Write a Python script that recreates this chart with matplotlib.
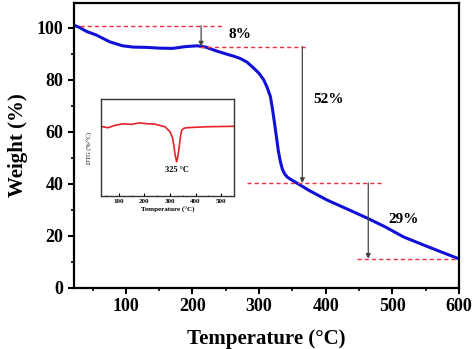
import matplotlib.pyplot as plt

plt.rcParams['font.family'] = 'Liberation Serif'
plt.rcParams['font.weight'] = 'bold'

# TGA curve
temp = [22, 30, 41, 55, 76, 95, 111, 130, 150, 170, 190, 207, 220, 235, 250, 262,
        272, 282, 292, 300, 307, 312, 317, 320, 323, 326, 329, 332, 335, 339, 343,
        349, 357, 375, 402, 430, 462, 490, 517, 550, 580, 600]
weight = [101.0, 100.2, 98.6, 97.3, 94.6, 93.1, 92.6, 92.5, 92.2, 92.1, 92.8, 93.1,
          92.6, 91.2, 90.0, 89.1, 88.2, 86.8, 84.5, 82.5, 80.0, 77.2, 73.6, 69.0,
          63.8, 58.2, 52.6, 48.6, 45.6, 43.6, 42.5, 41.5, 40.3, 37.5, 33.8, 30.6,
          26.9, 23.4, 19.6, 16.2, 13.2, 11.2]

# DTG inset curve
dtg_temp = [28, 57, 85, 116, 150, 181, 215, 240, 280, 300, 310, 315, 320, 326, 331,
            336, 341, 346, 355, 365, 400, 444, 500, 551]
dtg_val = [-0.06, -0.09, -0.04, -0.01, -0.02, 0.01, -0.01, -0.015, -0.07, -0.17,
           -0.3, -0.45, -0.65, -0.79, -0.68, -0.48, -0.28, -0.14, -0.10, -0.09,
           -0.08, -0.07, -0.065, -0.06]

# weight loss steps: (level, x start, x end)
levels = [100.8, 92.8, 40.3, 11.2]
level_spans = [(31, 246), (211, 374), (282, 485), (447, 600)]
step_x = [213, 365, 464]
step_labels = ['8%', '52%', '29%']
label_pos = [(271, 97.5), (404, 72.5), (517, 26.5)]

fig = plt.figure(figsize=(4.74, 3.49), dpi=100)
ax = fig.add_axes([0.156, 0.175, 0.812, 0.816])

ax.plot(temp, weight, color='#1010d8', lw=2.2)

for lv, (x0, x1) in zip(levels, level_spans):
    ax.plot([x0, x1], [lv, lv], color='#f03040', lw=1.0, dashes=(3, 2.2))

for i, x in enumerate(step_x):
    ax.annotate('', xy=(x, levels[i + 1]), xytext=(x, levels[i]),
                arrowprops=dict(arrowstyle='-|>', color='#444444', lw=0.9,
                                mutation_scale=7, shrinkA=0, shrinkB=0))
for (lx, ly), txt in zip(label_pos, step_labels):
    ax.text(lx, ly, txt, fontsize=11, fontweight='bold', ha='center', va='center')

ax.set_xlim(22, 600)
ax.set_ylim(0, 109.5)
ax.set_xticks([100, 200, 300, 400, 500, 600])
ax.set_xticks(range(50, 600, 100), minor=True)
ax.set_yticks([0, 20, 40, 60, 80, 100])
ax.set_yticks(range(10, 110, 20), minor=True)
ax.tick_params(which='major', direction='out', length=4, width=1.5, labelsize=13)
ax.tick_params(which='minor', direction='out', length=2.5, width=1.2)
for lab in ax.get_xticklabels() + ax.get_yticklabels():
    lab.set_fontweight('bold')
for sp in ax.spines.values():
    sp.set_linewidth(1.6)
ax.set_xlabel('Temperature (°C)', fontsize=15, fontweight='bold', labelpad=10)
ax.set_ylabel('Weight (%)', fontsize=15, fontweight='bold', labelpad=6)

# inset
ins = fig.add_axes([0.213, 0.438, 0.281, 0.278])
ins.plot(dtg_temp, dtg_val, color='#e8202a', lw=1.2)
ins.set_xlim(30, 551)
ins.set_ylim(-1.5, 0.5)
ins.set_xticks([100, 200, 300, 400, 500])
ins.set_xticks(range(50, 551, 50), minor=True)
ins.set_yticks([])
ins.tick_params(which='major', direction='in', length=2, width=0.8, labelsize=5, pad=2)
ins.tick_params(which='minor', direction='in', length=1, width=0.6)
for lab in ins.get_xticklabels():
    lab.set_fontweight('bold')
for sp in ins.spines.values():
    sp.set_linewidth(1.0)
    sp.set_color('#333333')
ins.set_xlabel('Temperature (°C)', fontsize=5, fontweight='bold', labelpad=2)
ins.set_ylabel('DTG (%/°C)', fontsize=4.5, labelpad=6)
ins.text(326, -0.96, '325 °C', fontsize=6, fontweight='bold', ha='center', va='center')

fig.savefig('out.png', dpi=100)
